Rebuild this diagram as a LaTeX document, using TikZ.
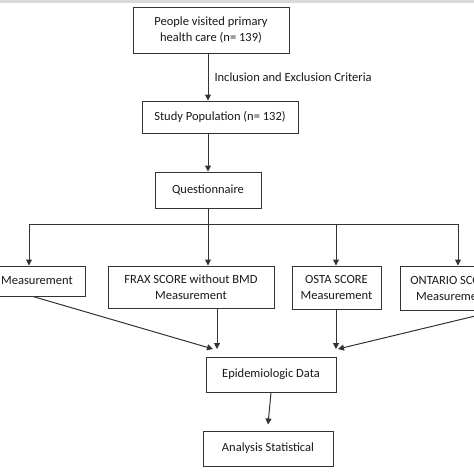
\documentclass[tikz,border=0pt]{standalone}
\usepackage{fontspec}
\setmainfont{Carlito}
\usepackage{tikz}
\usetikzlibrary{arrows.meta}

\tikzset{
  box/.style={draw=black!80, line width=1pt, align=center, inner sep=0pt,
    font=\fontsize{12.5}{16}\selectfont, text=black!90},
  arr/.style={draw=black!80, line width=1pt, -{Triangle[length=6pt,width=6pt]}},
  link/.style={draw=black!80, line width=1pt}
}

\begin{document}
\begin{tikzpicture}[x=1pt,y=-1pt]

	\useasboundingbox (0,0) rectangle (474,474);
	\clip (0,0) rectangle (474,474);
	\fill[black!15] (0,0) rectangle (474,3);

	\node[box, minimum width=156pt, minimum height=46pt] (visited) at (211,30) {People visited primary\\health care (n= 139)};
	\node[box, minimum width=156pt, minimum height=32pt] (population) at (220,117) {Study Population (n= 132)};
	\node[box, minimum width=106pt, minimum height=36pt] (quest) at (208,190) {Questionnaire};

	\node[box, minimum width=96pt, minimum height=30pt] (bmd) at (37,281) {Measurement};
	\node[box, minimum width=166pt, minimum height=42pt] (frax) at (191,287) {FRAX SCORE without BMD\\Measurement};
	\node[box, minimum width=89pt, minimum height=43pt] (osta) at (336.5,287.5) {OSTA SCORE\\Measurement};
	\node[box, minimum width=104pt, minimum height=44pt] (ontario) at (452,288) {ONTARIO SCORE\\Measurement};

	\node[box, minimum width=130pt, minimum height=35pt] (epi) at (271,374.5) {Epidemiologic Data};
	\node[box, minimum width=130pt, minimum height=35pt] (stat) at (268,448.5) {Analysis Statistical};

	\coordinate (b1) at (29,224);
	\coordinate (b4) at (458,224);
	\coordinate (e1) at (213,349);
	\coordinate (e2) at (217,349);
	\coordinate (e3) at (336,349);
	\coordinate (e4) at (338,349);

	% top part
	\draw[arr] (visited.south -| quest.center) -- (population.north -| quest.center)
		node[midway, anchor=west, xshift=6pt, box, draw=none] {Inclusion and Exclusion Criteria};
	\draw[arr] (population.south -| quest.center) -- (quest.north);

	% branches
	\draw[link] (b1) -- (b4);
	\draw[arr] (b1) -- (b1 |- bmd.north);
	\draw[arr] (quest.south) -- (quest.south |- frax.north);
	\draw[arr] (e3 |- b1) -- (e3 |- osta.north);
	\draw[arr] (b4) -- (b4 |- ontario.north);

	% to data
	\draw[arr] ([xshift=-4pt]bmd.south) -- (e1);
	\draw[arr] (frax.south -| e2) -- (e2);
	\draw[arr] (osta.south -| e3) -- (e3);
	\draw[arr] ([xshift=46pt]ontario.south) -- (e4);

	\draw[arr] (epi.south) -- ([yshift=6pt]stat.north);

\end{tikzpicture}
\end{document}
